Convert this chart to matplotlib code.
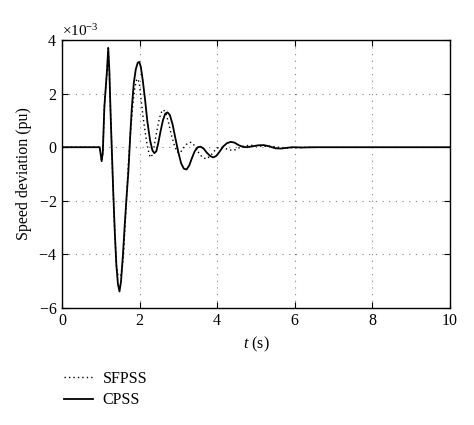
import matplotlib
matplotlib.use("Agg")
import matplotlib.pyplot as plt
from matplotlib.ticker import ScalarFormatter
from matplotlib.lines import Line2D

plt.rcParams["font.family"] = ["Liberation Serif", "DejaVu Serif"]
plt.rcParams["mathtext.fontset"] = "custom"
plt.rcParams["mathtext.rm"] = "Liberation Serif"
plt.rcParams["mathtext.it"] = "Liberation Serif:italic"

# CPSS (solid) - speed deviation in units of 1e-3 pu
t_cpss = [0, 0.97, 1.02, 1.05, 1.09, 1.13, 1.16, 1.19, 1.22, 1.25, 1.28, 1.32,
          1.36, 1.40, 1.44, 1.48, 1.52, 1.57, 1.62, 1.67, 1.71, 1.76, 1.80, 1.85,
          1.90, 1.95, 1.99, 2.03, 2.08, 2.14, 2.20, 2.27, 2.33, 2.38, 2.43, 2.48,
          2.54, 2.60, 2.66, 2.72, 2.78, 2.85, 2.92, 3.00, 3.07, 3.14, 3.21, 3.28,
          3.35, 3.42, 3.50, 3.57, 3.65, 3.73, 3.82, 3.90, 3.98, 4.06, 4.15, 4.25,
          4.35, 4.45, 4.55, 4.65, 4.75, 4.90, 5.05, 5.20, 5.35, 5.50, 5.65, 5.80,
          5.95, 6.20, 6.50, 10.0]
v_cpss = [0, 0, -0.52, -0.2, 1.5, 2.3, 2.9, 3.7, 2.8, 1.3, 0.0, -1.7,
          -3.2, -4.4, -5.1, -5.38, -5.0, -4.0, -2.8, -1.7, -0.9, 0.5, 1.5, 2.4,
          2.9, 3.15, 3.18, 3.0, 2.5, 1.77, 0.95, 0.25, -0.12, -0.22, -0.15, 0.15,
          0.6, 1.0, 1.25, 1.30, 1.2, 0.85, 0.35, -0.2, -0.6, -0.8, -0.83, -0.68,
          -0.4, -0.15, 0.0, 0.02, -0.05, -0.2, -0.33, -0.38, -0.32, -0.17, 0.02, 0.15,
          0.2, 0.17, 0.08, 0.02, 0.0, 0.03, 0.07, 0.08, 0.03, -0.04, -0.05, -0.02,
          0.0, -0.01, 0.0, 0.0]

# SFPSS (dotted)
t_sfpss = [0, 0.97, 1.02, 1.05, 1.09, 1.13, 1.16, 1.19, 1.22, 1.25, 1.28, 1.32,
           1.36, 1.40, 1.44, 1.51, 1.55, 1.58, 1.62, 1.67, 1.71, 1.75, 1.80, 1.84,
           1.88, 1.92, 1.96, 2.00, 2.05, 2.10, 2.14, 2.18, 2.22, 2.27, 2.32, 2.37,
           2.43, 2.49, 2.55, 2.61, 2.67, 2.74, 2.82, 2.90, 2.97, 3.04, 3.12, 3.20,
           3.28, 3.34, 3.42, 3.52, 3.62, 3.72, 3.82, 3.92, 4.02, 4.10, 4.22, 4.32,
           4.42, 4.52, 4.62, 4.75, 4.90, 5.05, 5.20, 5.35, 5.50, 5.65, 5.80, 5.95,
           6.10, 6.30, 6.50]
v_sfpss = [0, 0, -0.52, -0.2, 1.5, 2.3, 2.9, 3.7, 2.8, 1.3, 0.0, -1.7,
           -3.2, -4.4, -4.75, -4.81, -4.5, -4.1, -3.0, -1.7, -0.6, 0.3, 1.2, 1.8,
           2.25, 2.5, 2.55, 2.3, 1.6, 1.0, 0.6, 0.2, -0.1, -0.38, -0.3, 0.0,
           0.5, 0.95, 1.28, 1.40, 1.3, 0.95, 0.45, 0.05, -0.18, -0.22, -0.05, 0.1,
           0.18, 0.18, 0.05, -0.2, -0.38, -0.44, -0.33, -0.15, -0.02, 0.0, -0.05, -0.1,
           -0.12, -0.06, 0.02, 0.06, 0.07, 0.05, 0.03, 0.04, 0.02, -0.02, -0.03, -0.01,
           -0.02, 0.0, -0.01]

x_ticks = [0, 2, 4, 6, 8, 10]
y_ticks = [-6e-3, -4e-3, -2e-3, 0, 2e-3, 4e-3]

fig = plt.figure(figsize=(4.74, 4.25), dpi=100)
ax = fig.add_axes([0.131, 0.275, 0.818, 0.631])

ax.plot(t_sfpss, [v * 1e-3 for v in v_sfpss], color="black", lw=1.0,
        linestyle=(0, (1, 2.2)))
ax.plot(t_cpss, [v * 1e-3 for v in v_cpss], color="black", lw=1.3)

ax.set_xlim(0, 10)
ax.set_ylim(-6e-3, 4e-3)
ax.set_xticks(x_ticks)
ax.set_yticks(y_ticks)
fmt = ScalarFormatter(useMathText=True)
fmt.set_powerlimits((-2, 2))
ax.yaxis.set_major_formatter(fmt)
ax.yaxis.get_offset_text().set_fontsize(11)

ax.grid(True, color="0.5", linestyle=(0, (1, 5)), lw=0.8)
ax.tick_params(direction="in", top=True, right=True, labelsize=11.5, length=4)
for s in ax.spines.values():
    s.set_linewidth(1.0)

ax.set_xlabel("$t$ (s)", fontsize=11.5)
ax.set_ylabel("Speed deviation (pu)", fontsize=11.5, labelpad=5)

handles = [Line2D([], [], color="black", lw=1.0, linestyle=(0, (1, 2.2))),
           Line2D([], [], color="black", lw=1.3)]
fig.legend(handles, ["SFPSS", "CPSS"], loc="upper left",
           bbox_to_anchor=(0.105, 0.162), frameon=False, fontsize=11.5,
           handlelength=1.8, handletextpad=0.6, labelspacing=0.35)

fig.savefig("out.png", dpi=100)
